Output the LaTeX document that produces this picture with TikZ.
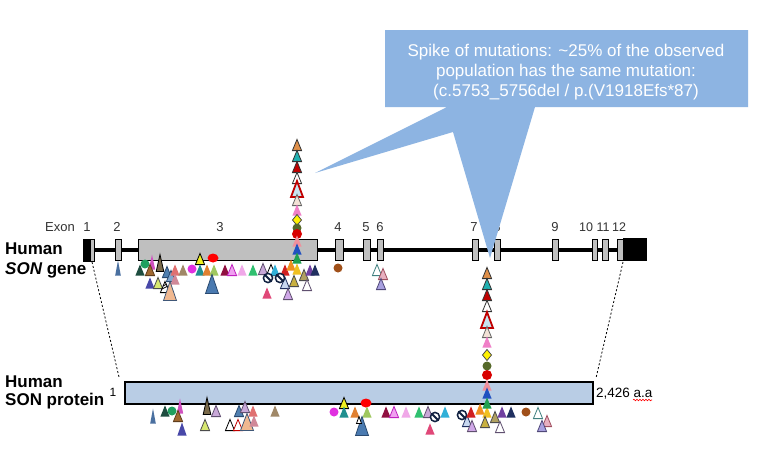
\documentclass[tikz,border=0pt]{standalone}
\usepackage{fontspec}
\setmainfont{Liberation Sans}
\usetikzlibrary{decorations.pathmorphing}
\definecolor{callout}{HTML}{8DB4E2}
\definecolor{protfill}{HTML}{B9CDE5}
\definecolor{exongray}{HTML}{BFBFBF}
\definecolor{navyd}{HTML}{102040}
\definecolor{cOrange}{HTML}{E0904A}
\definecolor{cTeal}{HTML}{20B0B0}
\definecolor{cDRed}{HTML}{C00000}
\definecolor{cLBlue}{HTML}{C8E4F0}
\definecolor{cPeach}{HTML}{F2E2D6}
\definecolor{cPink}{HTML}{F080C8}
\definecolor{cOlive}{HTML}{56692A}
\definecolor{cRed}{HTML}{D80000}
\definecolor{cPinkT}{HTML}{F0909C}
\definecolor{cBlue}{HTML}{2050C0}
\definecolor{cGreen}{HTML}{20A050}
\definecolor{cDGreen}{HTML}{1E4D40}
\definecolor{cGrCirc}{HTML}{20A060}
\definecolor{cMag}{HTML}{D050C0}
\definecolor{cBrown}{HTML}{A06830}
\definecolor{cDTan}{HTML}{7A6A4A}
\definecolor{cSteel}{HTML}{5080B0}
\definecolor{cLSteel}{HTML}{80A8D0}
\definecolor{cSalmon}{HTML}{E07070}
\definecolor{cRose}{HTML}{D08898}
\definecolor{cKhaki}{HTML}{A08868}
\definecolor{cMagC}{HTML}{E030E0}
\definecolor{cYel}{HTML}{F0F020}
\definecolor{cTeal2}{HTML}{209090}
\definecolor{cOr2}{HTML}{E08030}
\definecolor{cLGreen}{HTML}{A0C860}
\definecolor{cBigBlue}{HTML}{4A7AB0}
\definecolor{cBigBlueD}{HTML}{2A4A70}
\definecolor{cMaroon}{HTML}{901040}
\definecolor{cMagO}{HTML}{C020C0}
\definecolor{cMagF}{HTML}{F0A0F0}
\definecolor{cLPink}{HTML}{F0A8E8}
\definecolor{cGreen2}{HTML}{30C070}
\definecolor{cLav}{HTML}{C8A8D8}
\definecolor{cLavD}{HTML}{605070}
\definecolor{cCyan}{HTML}{30B0D8}
\definecolor{cRed2}{HTML}{D02020}
\definecolor{cOr3}{HTML}{F09020}
\definecolor{cGold}{HTML}{F0C020}
\definecolor{cKh2}{HTML}{C8B040}
\definecolor{cTan}{HTML}{B0A060}
\definecolor{cPurple}{HTML}{7040A0}
\definecolor{cNavy}{HTML}{203060}
\definecolor{cLtBl}{HTML}{C8D8F0}
\definecolor{cCrim}{HTML}{E04878}
\definecolor{cLav2}{HTML}{D0A8E8}
\definecolor{cIndigo}{HTML}{4848A8}
\definecolor{cYG}{HTML}{D8E870}
\definecolor{cBigPeach}{HTML}{F0B890}
\definecolor{cBigPeachD}{HTML}{405878}
\definecolor{cNBlue}{HTML}{4A70A0}
\definecolor{cBrC}{HTML}{A0501A}
\definecolor{cDTealO}{HTML}{408080}
\definecolor{cPkO}{HTML}{A05060}
\definecolor{cPkF}{HTML}{E8B0C0}
\definecolor{cLavB}{HTML}{A8A0E0}
\definecolor{cLavBD}{HTML}{504878}
\definecolor{exontext}{HTML}{333333}
% generic triangle: x, y, half width, half height, fill, draw
\newcommand\mkG[6]{\path[fill=#5,draw=#6,line width=0.8] ({#1-#3},{#2+#4}) -- (#1,{#2-#4}) -- ({#1+#3},{#2+#4}) -- cycle;}
\newcommand\mkT[4]{\mkG{#1}{#2}{4.6}{5.6}{#3}{#4}}
\newcommand\mkC[3]{\fill[#3] (#1,#2) circle[radius=4.5];}
\newcommand\mkN[2]{\draw[fill=white,draw=navyd,line width=1.5] (#1,#2) circle[radius=4.6]; \draw[navyd,line width=1.8] ({#1-3.2},{#2-3.2}) -- ({#1+3.2},{#2+3.2});}
\newcommand\mkD[2]{\path[fill=yellow,draw=black!70,line width=0.8] (#1,{#2-5.5}) -- ({#1+4.5},#2) -- (#1,{#2+5.5}) -- ({#1-4.5},#2) -- cycle;}
\newcommand\mkSpike[2]{%
  \def\sx{#1}%
  \foreach \yy [count=\i] in {#2} {%
    \ifcase\i\or
      \mkT{\sx}{\yy}{cOrange}{black!80}\or
      \mkT{\sx}{\yy}{cTeal}{black!80}\or
      \mkT{\sx}{\yy}{cDRed}{black!80}\or
      \mkT{\sx}{\yy}{white}{black!80}\or
      \path[fill=cLBlue,draw=cDRed,line width=1.8] ({\sx-6},{\yy+8}) -- (\sx,{\yy-8}) -- ({\sx+6},{\yy+8}) -- cycle;\or
      \mkT{\sx}{\yy}{cPeach}{black!60}\or
      \mkT{\sx}{\yy}{cPink}{none}\or
      \mkD{\sx}{\yy}\or
      \mkC{\sx}{\yy}{cOlive}\or
      \fill[cRed] (\sx,\yy) circle[radius=5];\or
      \mkT{\sx}{\yy}{cPinkT}{none}\or
      \mkT{\sx}{\yy}{cBlue}{none}\or
      \mkT{\sx}{\yy}{cGreen}{none}\fi}}
\tikzset{
  exonbox/.style={fill=exongray,draw=black,line width=0.8},
  exonlab/.style={anchor=base,inner sep=0,text=exontext,font=\fontsize{13}{15}\selectfont},
  bigtitle/.style={anchor=base west,inner sep=0,font=\fontsize{17}{20}\selectfont\bfseries},
  calltext/.style={anchor=base,inner sep=0,text=white,font=\fontsize{17}{20}\selectfont},
  guide/.style={black,line width=0.8,dash pattern=on 2pt off 2pt}
}
\begin{document}
\begin{tikzpicture}[x=1pt,y=-1pt]
\useasboundingbox (0,0) rectangle (762,471);
\fill[white] (0,0) rectangle (762,471);
% ---------- gene ----------
\draw[line width=3.5] (90,250) -- (623,250);
\fill[black] (83,239) rectangle (90,261);
\draw[exonbox] (90,239) rectangle (94,261);
\draw[black,line width=0.8] (83,239) rectangle (94,261);
\draw[exonbox] (115,239) rectangle (121,260);
\draw[exonbox] (138,239) rectangle (317,260);
\draw[exonbox] (335,239) rectangle (343,260);
\draw[exonbox] (363,239) rectangle (370,260);
\draw[exonbox] (377,239) rectangle (383,260);
\draw[exonbox] (472,239) rectangle (478,260);
\draw[exonbox] (494,239) rectangle (500,260);
\draw[exonbox] (552,239) rectangle (558,260);
\draw[exonbox] (592,239) rectangle (597,260);
\draw[exonbox] (602,239) rectangle (608,260);
\draw[exonbox] (617,239) rectangle (623,260);
\fill[black] (623,238) rectangle (647,261);
\node[exonlab] (lex) at (60,231) {Exon};
\node[exonlab] (l1) at (87,231) {1};
\node[exonlab] (l2) at (117,231) {2};
\node[exonlab] (l3) at (220,231) {3};
\node[exonlab] (l4) at (338,231) {4};
\node[exonlab] (l5) at (366,231) {5};
\node[exonlab] (l6) at (380,231) {6};
\node[exonlab] (l7) at (474,231) {7};
\node[exonlab] (l8) at (497,231) {8};
\node[exonlab] (l9) at (555,231) {9};
\node[exonlab,font=\fontsize{12.5}{15}\selectfont] (l10) at (586,231) {10};
\node[exonlab,font=\fontsize{12.5}{15}\selectfont] (l11) at (603,231) {11};
\node[exonlab,font=\fontsize{12.5}{15}\selectfont] (l12) at (619,231) {12};
\node[bigtitle] (hg1) at (5,254) {Human};
\node[bigtitle] (hg2) at (5,274) {\itshape SON\upshape{} gene};
% gene mutation cluster
\mkG{118}{268}{2.8}{7.5}{cNBlue}{none}
\mkT{140}{270}{cDGreen}{none}
\mkC{145}{264}{cGrCirc}
\mkG{152}{262}{3.2}{7.5}{cMag}{none}
\mkT{150}{270}{cBrown}{cBrown!60!black}
\mkG{160}{263}{3.8}{8.5}{cDTan}{black}
\mkT{167}{272}{cSteel}{cBigBlueD}
\mkT{171}{276}{cLSteel}{cBigBlueD}
\mkT{175}{270}{cSalmon}{none}
\mkT{175}{279}{cRose}{none}
\mkT{183}{270}{cKhaki}{none}
\mkC{192}{269}{cMagC}
\mkT{200}{259}{cYel}{black}
\fill[red] (213,258) ellipse[x radius=5.5,y radius=4.5];
\mkT{200}{270}{cTeal2}{none}
\mkT{207}{270}{cOr2}{none}
\mkT{214}{270}{cLGreen}{none}
\mkG{212}{284}{6.5}{9.5}{cBigBlue}{cBigBlueD}
\mkT{225}{270}{cMaroon}{none}
\mkT{232}{270}{cMagF}{cMagO}
\mkT{242}{270}{cLPink}{none}
\mkT{253}{270}{cGreen2}{none}
\mkT{263}{269}{cLav}{cLavD}
\mkT{271}{270}{white}{black}
\mkT{275}{270}{cCyan}{none}
\mkT{285}{270}{cRed2}{none}
\mkT{291}{265}{cOr3}{none}
\mkT{297}{269}{cGold}{none}
\mkT{304}{275}{cTan}{black!70}
\mkT{310}{270}{cPurple}{none}
\mkT{315}{270}{cNavy}{none}
\mkT{294}{281}{cKh2}{black!70}
\mkT{307}{285}{white}{cLavD}
\mkT{285}{283}{cLtBl}{cNavy}
\mkN{268}{278}
\mkN{280}{278}
\mkT{267}{293}{cCrim}{none}
\mkT{288}{294}{cLav2}{cLavD}
\mkT{150}{283}{cIndigo}{none}
\mkT{158}{283}{cYG}{black!70}
\mkT{165}{287}{white}{black}
\draw[black,line width=0.8] (163,286) -- (167,284) (162,289) -- (168,286);
\mkG{170}{291}{6.5}{9.5}{cBigPeach}{cBigPeachD}
\mkC{338}{268}{cBrC}
\mkT{377}{270}{white}{cDTealO}
\mkT{383}{274}{cPkF}{cPkO}
\mkT{381}{284}{cLavB}{cLavBD}
\mkSpike{297}{145,156,167,178,189,200,210,220,228,234,241,249,258}
% ---------- guides ----------
\coordinate (g1) at (92,262);
\coordinate (p1) at (119,377);
\coordinate (g2) at (623,262);
\coordinate (p2) at (596,378);
\draw[guide] (g1) -- (p1);
\draw[guide] (g2) -- (p2);
% ---------- protein ----------
\draw[fill=protfill,draw=black,line width=1.6] (125,382) rectangle (593,404);
\node[bigtitle] (hp1) at (5,387) {Human};
\node[bigtitle] (hp2) at (5,405) {SON protein};
\node[anchor=base,inner sep=0,font=\fontsize{12}{14}\selectfont] (p1lab) at (113,396) {1};
\node[anchor=base west,inner sep=0,font=\fontsize{13.5}{16}\selectfont] (p2lab) at (596,397) {2,426 a.a};
\draw[red,line width=0.6,decorate,decoration={snake,amplitude=0.8,segment length=3}] (633,400) -- (652,400);
% protein mutation cluster
\mkG{153}{416}{2.8}{7.5}{cNBlue}{none}
\mkT{165}{411}{cDGreen}{none}
\mkC{172}{411}{cGrCirc}
\mkG{180}{406}{3.2}{7.5}{cMag}{none}
\mkT{178}{416}{cBrown}{cBrown!60!black}
\mkG{182}{429}{4.6}{6.5}{cIndigo}{none}
\mkG{207}{406}{3.8}{8.5}{cDTan}{black}
\mkT{216}{411}{cLav}{cLavD}
\mkT{205}{425}{cYG}{black!70}
\mkT{239}{411}{cSteel}{cBigBlueD}
\mkT{245}{407}{cLav}{cLavD}
\mkT{253}{411}{cSalmon}{none}
\mkT{230}{425}{white}{black}
\mkT{238}{425}{white}{cDRed}
\mkG{247}{422}{6.5}{8.5}{cBigPeach}{cBigPeachD}
\mkT{254}{421}{cRose}{none}
\mkT{275}{411}{cKhaki}{none}
\mkC{334}{412}{cMagC}
\mkT{344}{403}{cYel}{black}
\mkT{344}{412}{cTeal2}{none}
\fill[red] (366,403) ellipse[x radius=5.5,y radius=4.5];
\mkT{355}{412}{cOr2}{none}
\mkT{367}{412}{cLGreen}{none}
\mkG{362}{426}{6.5}{9.5}{cBigBlue}{cBigBlueD}
\mkG{359}{420}{2.5}{3.5}{white}{black}
\mkT{386}{412}{cMaroon}{none}
\mkT{394}{412}{cMagF}{cMagO}
\mkT{406}{412}{cLPink}{none}
\mkT{419}{412}{cGreen2}{none}
\mkT{428}{412}{cLav}{cLavD}
\mkT{445}{412}{cCyan}{none}
\mkN{435}{417}
\mkT{430}{429}{cCrim}{none}
\mkT{467}{421}{cLtBl}{cNavy}
\mkN{462}{415}
\mkT{471}{412}{cRed2}{none}
\mkT{472}{426}{cLav2}{cLavD}
\mkT{480}{409}{cOr3}{none}
\mkT{487}{412}{cGold}{none}
\mkT{485}{422}{cKh2}{black!70}
\mkT{495}{417}{cTan}{black!70}
\mkT{502}{412}{cPurple}{none}
\mkT{511}{412}{cNavy}{none}
\mkT{500}{427}{white}{cLavD}
\mkC{526}{412}{cBrC}
\mkT{538}{413}{white}{cDTealO}
\mkT{547}{421}{cPkF}{cPkO}
\mkT{542}{426}{cLavB}{cLavBD}
\mkSpike{487}{273,284,295,306,320,332,342,355,366,375,385,393,403}
% ---------- callout ----------
\fill[callout] (385,30) -- (748,30) -- (748,107) -- (535,107) -- (490,258) -- (453,132) -- (315,173) -- (447,107) -- (385,107) -- cycle;
\node[calltext] (c1) at (566,56) {Spike of mutations: \textasciitilde25\% of the observed};
\node[calltext] (c2) at (566,76) {population has the same mutation:};
\node[calltext] (c3) at (566,96) {(c.5753\_5756del / p.(V1918Efs*87)};
\end{tikzpicture}
\end{document}
